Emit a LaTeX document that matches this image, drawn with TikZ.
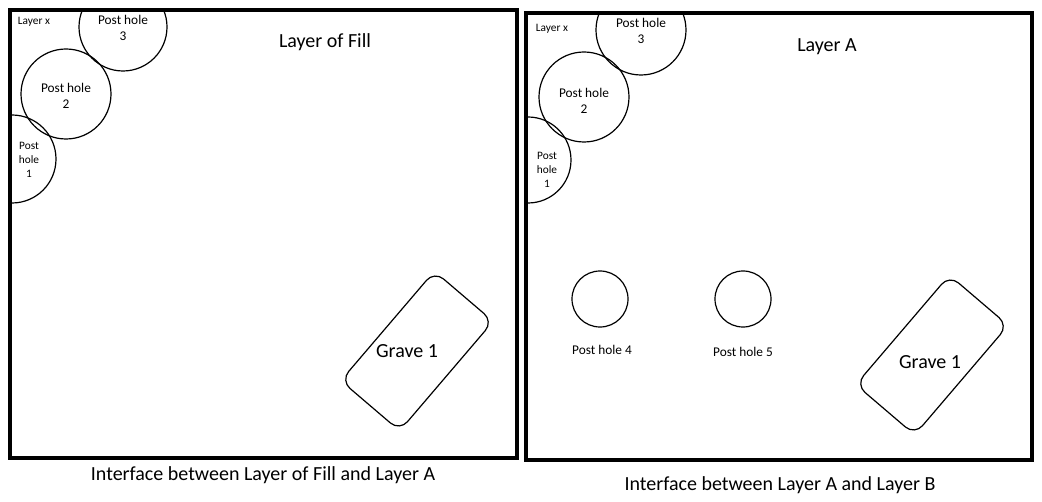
\documentclass[tikz,border=0pt]{standalone}
\usepackage{fontspec}
\setmainfont{Carlito}
\begin{document}
\begin{tikzpicture}[x=0.75pt,y=-0.75pt,
  frame/.style={draw,line width=2.4pt},
  hole/.style={draw,line width=0.9pt},
  grave/.style={draw,line width=0.9pt,rounded corners=9pt,minimum width=108pt,minimum height=58pt,rotate=49.5},
  lab/.style={font=\fontsize{10}{12}\selectfont,align=center},
  big/.style={font=\fontsize{15}{17}\selectfont}]
\useasboundingbox (0,0) rectangle (1042,502);
% left panel
\begin{scope}
\clip (10,10) rectangle (517,458);
\draw[hole] (123,27) circle (44);
\draw[hole] (66,94) circle (45);
\draw[hole] (12,159) circle (44);
\end{scope}
\node[frame,minimum width=380.25pt,minimum height=336pt,inner sep=0] (L) at (263.5,234) {};
\node[font=\fontsize{8.5}{10}\selectfont] (lx) at (34,22) {Layer x};
\node[lab] (p3) at (123,28) {Post hole\\3};
\node[lab] (p2) at (66,96) {Post hole\\2};
\node[lab,font=\fontsize{8.5}{10.5}\selectfont] (p1) at (29,160) {Post\\hole\\1};
\node[big] (lf) at (325,42) {Layer of Fill};
\node[grave] (g1) at (417,351) {};
\node[big] (g1t) at (407,351) {Grave 1};
\node[big] (c1) at (263,475) {Interface between Layer of Fill and Layer A};
% right panel
\begin{scope}
\clip (526,13) rectangle (1032,460);
\draw[hole] (641,30) circle (45);
\draw[hole] (584,97) circle (45);
\draw[hole] (528,160) circle (43);
\end{scope}
\node[frame,minimum width=379.5pt,minimum height=335.25pt,inner sep=0] (R) at (779,236.5) {};
\node[font=\fontsize{8.5}{10}\selectfont] (rx) at (552,29) {Layer x};
\node[lab] (q3) at (641,31) {Post hole\\3};
\node[lab] (q2) at (584,101) {Post hole\\2};
\node[lab,font=\fontsize{8.5}{10.5}\selectfont] (q1) at (547,170) {Post\\hole\\1};
\node[big] (la) at (827,47) {Layer A};
\node[hole,circle,minimum size=42pt,inner sep=0] (h4) at (600,299) {};
\node[lab] (h4t) at (602,350) {Post hole 4};
\node[hole,circle,minimum size=42pt,inner sep=0] (h5) at (743,299) {};
\node[lab] (h5t) at (743,352) {Post hole 5};
\node[grave] (g2) at (932,355) {};
\node[big] (g2t) at (930,362) {Grave 1};
\node[big] (c2) at (780,485) {Interface between Layer A and Layer B};
\end{tikzpicture}
\end{document}
